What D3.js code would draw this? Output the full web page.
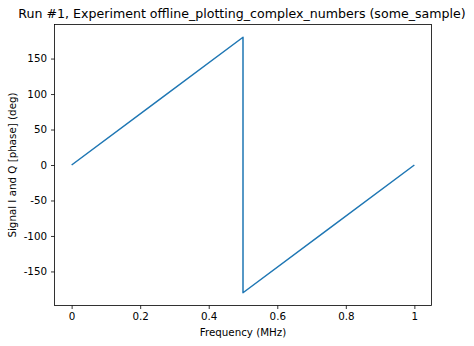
<!DOCTYPE html>
<html><head><meta charset="utf-8">
<script src="https://cdn.jsdelivr.net/npm/d3@7"></script>
<style>body{margin:0;background:#fff;} text{font-family:"DejaVu Sans",sans-serif;}</style>
</head><body><svg id="c" width="474" height="346"></svg>
<script>
const frequency = [0, 0.25, 0.5, 0.5, 0.75, 1];
const phase = [0, 90, 180, -180, -90, 0];
const xTicks = [0, 0.2, 0.4, 0.6, 0.8, 1];
const yTicks = [-150, -100, -50, 0, 50, 100, 150];
const title = "Run #1, Experiment offline_plotting_complex_numbers (some_sample)";
const xLabel = "Frequency (MHz)";
const yLabel = "Signal I and Q [phase] (deg)";

const svg = d3.select("#c");
const L = 54.5, R = 431.5, T = 24.5, B = 305.5;
const x = d3.scaleLinear().domain([-0.05, 1.05]).range([L, R]);
const y = d3.scaleLinear().domain([-198, 198]).range([B, T]);

const fmtX = d => d === 0 ? "0" : d === 1 ? "1" : String(d);
const xa = svg.append("g").attr("transform", `translate(0,${B})`)
  .call(d3.axisBottom(x).tickValues(xTicks).tickFormat(fmtX).tickSize(3.5).tickPadding(4));
const ya = svg.append("g").attr("transform", `translate(${L},0)`)
  .call(d3.axisLeft(y).tickValues(yTicks).tickFormat(d => String(d)).tickSize(3.5).tickPadding(4));
[xa, ya].forEach(a => {
  a.select(".domain").remove();
  a.selectAll("text").attr("font-size", 10.3).attr("fill", "#000").attr("font-family", "DejaVu Sans");
  a.selectAll("line").attr("stroke", "#000").attr("stroke-width", 0.8);
});

const pts = frequency.map((f, i) => [f, phase[i]]);
svg.append("path").datum(pts)
  .attr("d", d3.line().x(d => x(d[0])).y(d => y(d[1])))
  .attr("fill", "none").attr("stroke", "#1f77b4").attr("stroke-width", 1.5)
  .attr("stroke-linejoin", "round");

svg.append("rect").attr("x", L).attr("y", T).attr("width", R - L).attr("height", B - T)
  .attr("fill", "none").attr("stroke", "#000").attr("stroke-width", 0.8);

svg.append("text").attr("x", (L + R) / 2 - 1).attr("y", 18).attr("text-anchor", "middle")
  .attr("font-size", 12.6).text(title);
svg.append("text").attr("x", (L + R) / 2).attr("y", 336).attr("text-anchor", "middle")
  .attr("font-size", 10.3).text(xLabel);
svg.append("text").attr("transform", `translate(16,${(T + B) / 2}) rotate(-90)`)
  .attr("text-anchor", "middle").attr("font-size", 10.3).text(yLabel);
</script></body></html>
